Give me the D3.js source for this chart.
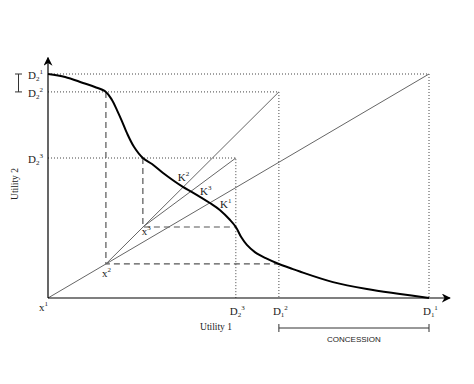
<!DOCTYPE html>
<html>
<head>
<meta charset="utf-8">
<script src="https://cdn.jsdelivr.net/npm/d3@7"></script>
<style>
  body { margin: 0; background: #fff; }
  svg { display: block; }
  .lbl { font-family: "Liberation Serif", "DejaVu Serif", serif; fill: #222; }
</style>
</head>
<body>
<div id="chart"></div>
<script>
// utility frontier (utility 1, utility 2)
const curveU1 = [0, 4.5, 9.2, 12.3, 15.2, 16.8, 18.1, 19.4, 20.7, 22.6, 24.9, 27.3, 30.2, 35.4, 37.8, 42.5, 45.1, 47.8, 49.3, 50.7, 52.2, 54.3, 57.0, 60.6, 63.5, 66.1, 74.8, 83.7, 92.4, 100];
const curveU2 = [100, 98.7, 96.0, 94.2, 92.0, 88.4, 83.9, 79.0, 73.7, 67.4, 62.5, 59.8, 55.8, 49.6, 47.3, 42.4, 39.3, 34.8, 31.7, 27.2, 23.7, 20.5, 17.9, 15.2, 13.4, 11.8, 7.1, 4.0, 1.8, 0];

// disagreement points x1, x2, x3
const startU1 = [0, 15.2, 24.9];
const startU2 = [0, 15.2, 31.7];
const startNames = ['1', '2', '3'];

// demand points D1^i / D2^i
const demandU1 = [100, 60.6, 49.3];
const demandU2 = [100, 92.0, 62.5];
const leftLabels = [['2', '1'], ['2', '2'], ['2', '3']];
const bottomLabels = [['1', '1'], ['1', '2'], ['2', '3']];

// intersection labels K
const kNames = ['2', '3', '1'];
const kU1 = [35.4, 37.8, 42.5];
const kU2 = [49.6, 47.3, 42.4];

const width = 474, height = 384;

const x = d3.scaleLinear().domain([0, 100]).range([48, 429]);
const y = d3.scaleLinear().domain([0, 100]).range([298, 74]);

const svg = d3.select('#chart').append('svg')
  .attr('width', width)
  .attr('height', height);

svg.append('rect').attr('width', width).attr('height', height).attr('fill', '#fff');

const defs = svg.append('defs');
defs.append('marker')
  .attr('id', 'arrow')
  .attr('viewBox', '0 0 10 10')
  .attr('refX', 9).attr('refY', 5)
  .attr('markerWidth', 9).attr('markerHeight', 9)
  .attr('markerUnits', 'userSpaceOnUse')
  .attr('orient', 'auto')
  .append('path')
  .attr('d', 'M0,0 L10,5 L0,10 L3,5 Z')
  .attr('fill', '#000');

// dotted demand rectangles
demandU1.forEach((d, i) => {
  svg.append('path')
    .attr('d', `M${x(0)},${y(demandU2[i])} H${x(d)} V${y(0)}`)
    .attr('fill', 'none')
    .attr('stroke', '#444')
    .attr('stroke-width', 1)
    .attr('stroke-dasharray', '1,2');
});

// dashed projections from x2 and x3 to the frontier
[1, 2].forEach(i => {
  const cy = curveU2[curveU1.indexOf(startU1[i])];
  const cx = curveU1[curveU2.indexOf(startU2[i])];
  svg.append('path')
    .attr('d', `M${x(startU1[i])},${y(cy)} V${y(startU2[i])} H${x(cx)}`)
    .attr('fill', 'none')
    .attr('stroke', '#555')
    .attr('stroke-width', 1.2)
    .attr('stroke-dasharray', '6,4');
});

// rays from each disagreement point to its demand point
startU1.forEach((s, i) => {
  svg.append('line')
    .attr('x1', x(s)).attr('y1', y(startU2[i]))
    .attr('x2', x(demandU1[i])).attr('y2', y(demandU2[i]))
    .attr('stroke', '#666')
    .attr('stroke-width', 1);
});

// frontier
const line = d3.line()
  .x((d, i) => x(curveU1[i]))
  .y((d, i) => y(curveU2[i]))
  .curve(d3.curveCatmullRom.alpha(0.5));

svg.append('path')
  .datum(curveU1)
  .attr('d', line)
  .attr('fill', 'none')
  .attr('stroke', '#000')
  .attr('stroke-width', 2);

// axes
svg.append('line')
  .attr('x1', x(0)).attr('y1', y(0))
  .attr('x2', x(105.5)).attr('y2', y(0))
  .attr('stroke', '#000').attr('stroke-width', 1.2)
  .attr('marker-end', 'url(#arrow)');
svg.append('line')
  .attr('x1', x(0)).attr('y1', y(0))
  .attr('x2', x(0)).attr('y2', y(107.3))
  .attr('stroke', '#000').attr('stroke-width', 1.2)
  .attr('marker-end', 'url(#arrow)');

// helper: base letter with subscript and superscript
function subSup(g, px, py, base, sub, sup, anchor) {
  const t = g.append('text')
    .attr('class', 'lbl')
    .attr('x', px).attr('y', py)
    .attr('text-anchor', anchor || 'start')
    .style('font-size', '11px');
  t.append('tspan').text(base);
  if (sub) t.append('tspan').attr('dy', 2).style('font-size', '7px').text(sub);
  if (sup) t.append('tspan').attr('dy', sub ? -7 : -5).style('font-size', '7px').text(sup);
  return t;
}

// left labels
leftLabels.forEach((l, i) => {
  subSup(svg, x(0) - 20, y(demandU2[i]) + 5, 'D', l[0], l[1]);
});

// bracket at the top left
svg.append('path')
  .attr('d', `M15,${y(demandU2[0])} H22 M18.5,${y(demandU2[0])} V${y(demandU2[1])} M15,${y(demandU2[1])} H22`)
  .attr('stroke', '#333').attr('stroke-width', 1).attr('fill', 'none');

// bottom labels
bottomLabels.forEach((l, i) => {
  subSup(svg, x(demandU1[i]) - 6, y(0) + 17, 'D', l[0], l[1]);
});

// disagreement point labels
subSup(svg, x(startU1[0]) - 9, y(startU2[0]) + 13, 'x', null, startNames[0]);
subSup(svg, x(startU1[1]) - 4, y(startU2[1]) + 13, 'x', null, startNames[1]);
subSup(svg, x(startU1[2]) - 1, y(startU2[2]) + 8, 'x', null, startNames[2]);

// K labels, placed beside the crossing points
const kOffsets = [[-5, -6], [8, 3], [10, 5]];
kNames.forEach((k, i) => {
  subSup(svg, x(kU1[i]) + kOffsets[i][0], y(kU2[i]) + kOffsets[i][1], 'K', null, k);
});

// axis titles
svg.append('text')
  .attr('class', 'lbl')
  .attr('x', 216).attr('y', 330)
  .attr('text-anchor', 'middle')
  .style('font-size', '9.5px')
  .text('Utility 1');

svg.append('text')
  .attr('class', 'lbl')
  .attr('transform', 'translate(18,184) rotate(-90)')
  .attr('text-anchor', 'middle')
  .style('font-size', '9.5px')
  .text('Utility 2');

// concession bracket
const cy = 328;
svg.append('path')
  .attr('d', `M${x(demandU1[1])},${cy - 4} V${cy + 4} M${x(demandU1[1])},${cy} H${x(demandU1[0])} M${x(demandU1[0])},${cy - 4} V${cy + 4}`)
  .attr('stroke', '#333').attr('stroke-width', 1).attr('fill', 'none');

svg.append('text')
  .attr('x', (x(demandU1[1]) + x(demandU1[0])) / 2)
  .attr('y', 342)
  .attr('text-anchor', 'middle')
  .style('font-family', '"Liberation Sans", Arial, sans-serif')
  .style('font-size', '8px')
  .attr('fill', '#222')
  .text('CONCESSION');
</script>
</body>
</html>
